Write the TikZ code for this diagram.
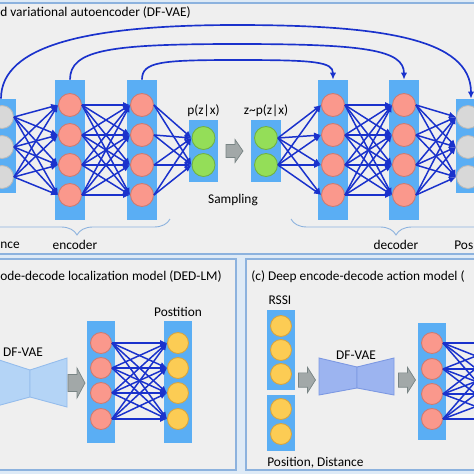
\documentclass[tikz,border=0pt]{standalone}
\usepackage{fontspec}
\setmainfont{Carlito}
\usetikzlibrary{arrows.meta,decorations.pathreplacing}

\definecolor{pagebg}{RGB}{222,234,246}
\definecolor{panelbg}{RGB}{239,239,239}
\definecolor{panelline}{RGB}{140,178,222}
\definecolor{colblue}{RGB}{90,174,244}
\definecolor{linkblue}{RGB}{26,50,204}
\definecolor{redfill}{RGB}{250,152,140}
\definecolor{redline}{RGB}{206,122,112}
\definecolor{grayfill}{RGB}{216,216,216}
\definecolor{grayline}{RGB}{186,186,186}
\definecolor{greenfill}{RGB}{148,222,88}
\definecolor{greenline}{RGB}{112,178,66}
\definecolor{yellowfill}{RGB}{252,204,84}
\definecolor{yellowline}{RGB}{214,164,64}
\definecolor{vaefill}{RGB}{180,212,246}
\definecolor{vaeline}{RGB}{148,188,236}
\definecolor{vaefillc}{RGB}{156,180,240}
\definecolor{vaelinec}{RGB}{124,152,226}
\definecolor{arrowgray}{RGB}{162,168,168}
\definecolor{arrowline}{RGB}{120,132,132}

\newcommand{\grayarrow}[2]{%
    \filldraw[blockarrow, shift={(#1)}, yscale=#2]
        (-8.5,-6.5) -- (0.5,-6.5) -- (0.5,-11.5) -- (8.5,0) -- (0.5,11.5) -- (0.5,6.5) -- (-8.5,6.5) -- cycle;}

\begin{document}
\begin{tikzpicture}
        [
            x = 0.02cm, y = -0.02cm,
            txt/.style = {inner sep = 0, font = \fontsize{7.6}{9}\selectfont},
            panel/.style = {fill = panelbg, draw = panelline, line width = 0.6pt},
            col/.style = {fill = colblue, inner sep = 0, minimum width = 0.6cm},
            unit/.style = {circle, inner sep = 0, minimum size = 0.46cm, line width = 0.5pt},
            lowunit/.style = {minimum size = 0.42cm},
            rednode/.style = {unit, fill = redfill, draw = redline},
            graynode/.style = {unit, fill = grayfill, draw = grayline},
            greennode/.style = {unit, fill = greenfill, draw = greenline},
            yellownode/.style = {unit, fill = yellowfill, draw = yellowline},
            link/.style = {draw = linkblue, line width = 0.85pt, -{Latex[length = 4pt, width = 3.6pt]}},
            skip/.style = {link, line width = 0.95pt},
            groupbrace/.style = {draw = panelline, line width = 0.5pt, decorate, decoration = {brace, mirror, amplitude = 0.32cm}},
            blockarrow/.style = {fill = arrowgray, draw = arrowline, line width = 0.4pt},
            vaeB/.style = {fill = vaefill, draw = vaeline, line width = 0.5pt},
            vaeC/.style = {fill = vaefillc, draw = vaelinec, line width = 0.5pt}
        ]

        \useasboundingbox (0,0) rectangle (474,474);
        \clip (0,0) rectangle (474,474);
        \fill[pagebg] (0,0) rectangle (474,474);
        \draw[panel] (-10,3) rectangle (484,254);
        \draw[panel] (-10,259) rectangle (236,470);
        \draw[panel] (246,259) rectangle (484,470);

        % (a) DF-VAE
        \node[txt, anchor = west] (titleA) at (0,13) {d variational autoencoder (DF-VAE)};
        \node[col, minimum height = 1.88cm] (inp) at (1,146) {};
        \node[col, minimum height = 2.8cm] (enc1) at (70,150) {};
        \node[col, minimum height = 2.8cm] (enc2) at (142,150) {};
        \node[col, minimum height = 1.24cm] (pz) at (203.5,151) {};
        \node[col, minimum height = 1.24cm] (zs) at (266,151) {};
        \node[col, minimum height = 2.8cm] (dec1) at (333,150) {};
        \node[col, minimum height = 2.8cm] (dec2) at (404,150) {};
        \node[col, minimum height = 1.88cm] (outp) at (471,146) {};

        \foreach \k/\y in {1/117, 2/147, 3/177} {
            \node[graynode] (in-\k) at (2,\y) {};
            \node[graynode] (out-\k) at (468,\y) {};
        }
        \foreach \k/\y in {1/105, 2/135, 3/165, 4/195} {
            \node[rednode] (e1-\k) at (70,\y) {};
            \node[rednode] (e2-\k) at (142,\y) {};
            \node[rednode] (d1-\k) at (333,\y) {};
            \node[rednode] (d2-\k) at (404,\y) {};
        }
        \foreach \k/\y in {1/138, 2/165} {
            \node[greennode] (pz-\k) at (203.5,\y) {};
            \node[greennode] (zs-\k) at (266,\y) {};
        }

        \foreach \i in {1,2,3} \foreach \j in {1,...,4} {
            \draw[link] (in-\i.east) -- (e1-\j.west);
            \draw[link] (d2-\j.east) -- (out-\i.west);
        }
        \foreach \i in {1,...,4} \foreach \j in {1,...,4} {
            \draw[link] (e1-\i.east) -- (e2-\j.west);
            \draw[link] (d1-\i.east) -- (d2-\j.west);
        }
        \foreach \i in {1,...,4} \foreach \j in {1,2} {
            \draw[link] (e2-\i.east) -- (pz-\j.west);
            \draw[link] (zs-\j.east) -- (d1-\i.west);
        }

        \coordinate (peak1) at (236,25);
        \coordinate (peak2) at (237,44);
        \coordinate (peak3) at (237.5,60);
        \draw[skip] (inp.north) .. controls +(0,-54) and +(-146,0) .. (peak1)
            .. controls +(146,0) and +(0,-60) .. (outp.north);
        \draw[skip] (enc1.north) .. controls +(0,-30) and +(-127,0) .. (peak2)
            .. controls +(127,0) and +(0,-30) .. (dec2.north);
        \draw[skip] (enc2.north) .. controls +(0,-18) and +(-77,0) .. (peak3)
            .. controls +(77,0) and +(0,-18) .. (dec1.north);

        \grayarrow{234.5,151}{1}
        \node[txt] (pzlabel) at (203.5,111) {p(z|x)};
        \node[txt] (zslabel) at (266,111) {z\textasciitilde p(z|x)};
        \node[txt] (sampling) at (233,200) {Sampling};

        \draw[groupbrace] (-16,219) -- (170,219);
        \draw[groupbrace] (291,219) -- (501,219);
        \node[txt, anchor = west] (inlabel) at (0,245) {nce};
        \node[txt] (enclabel) at (75,245) {encoder};
        \node[txt] (declabel) at (396,245) {decoder};
        \node[txt, anchor = west] (outlabel) at (454,245) {Pos};

        % (b) DED-LM
        \node[txt, anchor = west] (titleB) at (0,277) {ode-decode localization model (DED-LM)};
        \filldraw[vaeB] (-7,358) -- (30,370) -- (30,397) -- (-7,407) -- cycle;
        \filldraw[vaeB] (30,370) -- (67,358) -- (67,407) -- (30,397) -- cycle;
        \node[txt] (vaeBlabel) at (23,352) {DF-VAE};
        \grayarrow{76.5,383}{1.3}
        \node[col, minimum width = 0.56cm, minimum height = 2.44cm] (hidB) at (101,382) {};
        \node[col, minimum width = 0.56cm, minimum height = 2.44cm] (posB) at (178,382) {};
        \node[txt] (posBlabel) at (178,312) {Postition};
        \foreach \k/\y in {1/343, 2/368, 3/393, 4/419} {
            \node[rednode, lowunit] (hb-\k) at (101,\y) {};
            \node[yellownode, lowunit] (pb-\k) at (178,\y) {};
        }
        \foreach \i in {1,...,4} \foreach \j in {1,...,4}
            \draw[link] (hb-\i.east) -- (pb-\j.west);

        % (c) DED-AM
        \node[txt, anchor = west] (titleC) at (251,277) {(c) Deep encode-decode action model (};
        \node[col, minimum width = 0.56cm, minimum height = 1.6cm] (rssi) at (281,350) {};
        \node[col, minimum width = 0.56cm, minimum height = 1.12cm] (posdist) at (281,423) {};
        \node[txt] (rssilabel) at (280,300) {RSSI};
        \node[txt, anchor = west] (pdlabel) at (267,463) {Position, Distance};
        \foreach \k/\y in {1/326, 2/350, 3/374}
            \node[yellownode, lowunit] (rc-\k) at (281,\y) {};
        \foreach \k/\y in {1/409, 2/434}
            \node[yellownode, lowunit] (pc-\k) at (281,\y) {};
        \grayarrow{307,380}{1.1}
        \filldraw[vaeC] (319,358) -- (357,367) -- (357,388) -- (319,395) -- cycle;
        \filldraw[vaeC] (357,367) -- (394,358) -- (394,395) -- (357,388) -- cycle;
        \node[txt] (vaeClabel) at (356,355) {DF-VAE};
        \grayarrow{407,380}{1.1}
        \node[col, minimum width = 0.56cm, minimum height = 2.34cm] (hidC) at (432,381.5) {};
        \foreach \k/\y in {1/343, 2/369, 3/394, 4/419} {
            \node[rednode, lowunit] (hc-\k) at (432,\y) {};
            \coordinate (nx-\k) at (509,\y);
        }
        \foreach \i in {1,...,4} \foreach \j in {1,...,4}
            \draw[link] (hc-\i.east) -- (nx-\j);
\end{tikzpicture}
\end{document}
